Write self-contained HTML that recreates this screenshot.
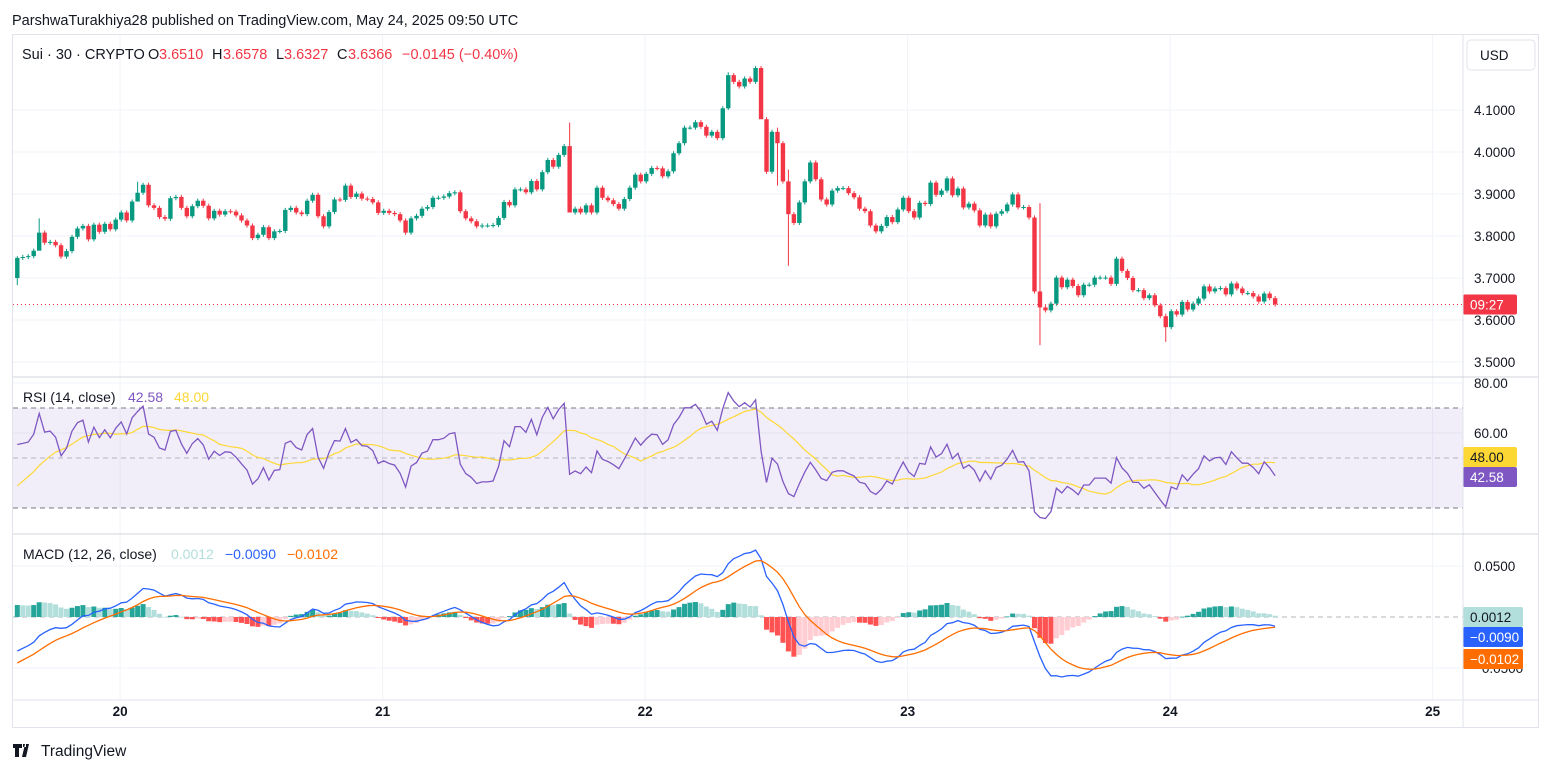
<!DOCTYPE html>
<html><head><meta charset="utf-8"><style>
html,body{margin:0;padding:0;background:#fff;}
body{width:1553px;height:772px;overflow:hidden;font-family:"Liberation Sans",sans-serif;}
svg text{font-family:"Liberation Sans",sans-serif;}
</style></head><body>
<svg id="chart" width="1553" height="772" viewBox="0 0 1553 772" xmlns="http://www.w3.org/2000/svg">
<rect x="0" y="0" width="1553" height="772" fill="#fff"/>
<text x="12" y="25" font-size="14.5" fill="#131722">ParshwaTurakhiya28 published on TradingView.com, May 24, 2025 09:50 UTC</text>
<rect x="12.5" y="34.5" width="1526" height="693" fill="none" stroke="#e0e3eb"/>
<g id="grid"></g>
<g id="rsiBand"></g>
<g id="candles"></g>
<g id="rsiLines"></g>
<g id="macdG"></g>
<g id="axes"></g>
<line x1="1463" y1="35" x2="1463" y2="727" stroke="#e0e3eb"/>
<line x1="13" y1="377" x2="1538" y2="377" stroke="#d1d4dc"/>
<line x1="13" y1="534" x2="1538" y2="534" stroke="#d1d4dc"/>
<line x1="13" y1="700" x2="1538" y2="700" stroke="#e0e3eb"/>
<g><rect x="1467" y="40" width="68" height="30" rx="4" fill="#fff" stroke="#e0e3eb"/><text x="1480" y="60" font-size="13.5" fill="#131722">USD</text></g>
<g font-size="14.5">
<text x="22" y="59" fill="#131722">Sui · 30 · CRYPTO</text>
<text x="148" y="59" fill="#131722">O</text><text x="159" y="59" fill="#f23645">3.6510</text>
<text x="212" y="59" fill="#131722">H</text><text x="223" y="59" fill="#f23645">3.6578</text>
<text x="276" y="59" fill="#131722">L</text><text x="284" y="59" fill="#f23645">3.6327</text>
<text x="337" y="59" fill="#131722">C</text><text x="348" y="59" fill="#f23645">3.6366</text>
<text x="402" y="59" fill="#f23645">−0.0145 (−0.40%)</text>
</g>
<g font-size="14">
<text x="23" y="402" fill="#131722">RSI (14, close)</text>
<text x="128" y="402" fill="#7e57c2">42.58</text>
<text x="174" y="402" fill="#fdd835">48.00</text>
</g>
<g font-size="14">
<text x="23" y="559" fill="#131722">MACD (12, 26, close)</text>
<text x="171" y="559" fill="#b2dfdb">0.0012</text>
<text x="225" y="559" fill="#2962ff">−0.0090</text>
<text x="287" y="559" fill="#ff6d00">−0.0102</text>
</g>
<g>
<path d="M13 744h9v4h-3v9h-4v-9h-2z M25 744l-3 13h4l3-13z M23 744h3v3h-3z" fill="#131722"/>
<text x="41" y="756" font-size="15.5" fill="#131722">TradingView</text>
</g>
</svg>
<script>
// ---- data (30m candles, SUI/USD) ----
const closes = [3.748,3.750,3.752,3.765,3.808,3.784,3.786,3.778,3.751,3.764,3.798,3.818,3.824,3.792,3.827,3.810,3.829,3.816,3.839,3.856,3.837,3.882,3.903,3.922,3.873,3.867,3.845,3.841,3.890,3.893,3.867,3.847,3.871,3.884,3.872,3.842,3.860,3.851,3.859,3.858,3.849,3.837,3.825,3.795,3.803,3.821,3.795,3.811,3.812,3.862,3.867,3.856,3.852,3.884,3.898,3.847,3.823,3.857,3.887,3.886,3.920,3.893,3.901,3.889,3.888,3.880,3.855,3.860,3.855,3.852,3.837,3.808,3.842,3.848,3.865,3.869,3.891,3.891,3.894,3.902,3.904,3.859,3.842,3.835,3.823,3.825,3.825,3.826,3.843,3.881,3.873,3.911,3.911,3.904,3.931,3.911,3.952,3.981,3.965,3.993,4.014,3.856,3.865,3.856,3.873,3.856,3.915,3.891,3.885,3.876,3.865,3.888,3.915,3.946,3.930,3.948,3.962,3.961,3.942,3.954,3.997,4.021,4.058,4.058,4.071,4.060,4.039,4.048,4.033,4.104,4.183,4.167,4.156,4.175,4.167,4.200,4.078,3.953,4.048,4.021,3.930,3.852,3.831,3.880,3.930,3.975,3.935,3.887,3.875,3.908,3.914,3.914,3.902,3.892,3.865,3.859,3.825,3.811,3.824,3.845,3.833,3.863,3.891,3.859,3.844,3.879,3.876,3.927,3.898,3.908,3.937,3.897,3.913,3.868,3.877,3.861,3.825,3.851,3.823,3.853,3.859,3.875,3.899,3.868,3.869,3.844,3.668,3.630,3.623,3.639,3.701,3.678,3.696,3.681,3.659,3.684,3.684,3.701,3.701,3.701,3.686,3.746,3.717,3.700,3.671,3.671,3.652,3.659,3.635,3.609,3.583,3.621,3.613,3.643,3.625,3.639,3.651,3.680,3.668,3.675,3.676,3.661,3.687,3.675,3.664,3.664,3.656,3.644,3.663,3.652,3.637];
const firstOpen = 3.700;
const longWicks = {0:[3.752,3.683],4:[3.842,3.790],22:[3.929,3.890],101:[4.070,4.010],136:[4.205,4.195],141:[3.958,3.729],187:[3.878,3.540],210:[3.615,3.548],130:[4.190,4.100],139:[4.058,3.92]};
const priceTicks = ["4.1000","4.0000","3.9000","3.8000","3.7000","3.6000","3.5000"];
const priceTickVals = [4.1,4.0,3.9,3.8,3.7,3.6,3.5];
const rsiTicks = ["80.00","60.00"];
const rsiTickVals = [80,60];
const macdTicks = ["0.0500","−0.0500"];
const macdTickVals = [0.05,-0.05];
const dayLabels = ["20","21","22","23","24","25"];
const dayIndex = [18.8,66.8,114.8,162.8,210.8,258.8];

// ---- scales ----
const NS="http://www.w3.org/2000/svg";
const xS = i => 17.3 + i*5.4688;
const pY = v => 110 + (4.1 - v)*420;
const rY = v => 458 - (v-50)*2.5;
const mY = v => 617 - v*1020;
function mk(tag, attrs, parent){const e=document.createElementNS(NS,tag);for(const k in attrs)e.setAttribute(k,attrs[k]);parent.appendChild(e);return e;}
const grid=document.getElementById('grid'), axes=document.getElementById('axes');

dayIndex.forEach((d,k)=>{
  const x=xS(d);
  const g=mk('line',{x1:x,y1:35,x2:x,y2:700,stroke:'#f0f3fa'},grid);
  
  
  const t=mk('text',{x:x,y:716,'font-size':13.5,'font-weight':'bold','text-anchor':'middle',fill:'#131722'},axes);
  t.textContent=dayLabels[k];
  
  
});
priceTickVals.forEach((v,k)=>{
  const y=pY(v);
  const g=mk('line',{x1:13,y1:y,x2:1463,y2:y,stroke:'#f0f3fa'},grid);
  
  
  const t=mk('text',{x:1474,y:y+5,'font-size':13.5,fill:'#131722'},axes);
  t.textContent=priceTicks[k];
  
  
});
rsiTickVals.forEach((v,k)=>{
  const y=rY(v);
  const g=mk('line',{x1:13,y1:y,x2:1463,y2:y,stroke:'#f0f3fa'},grid);
  
  
  const t=mk('text',{x:1474,y:y+5,'font-size':13.5,fill:'#131722'},axes);
  t.textContent=rsiTicks[k];
  
  
});
macdTickVals.forEach((v,k)=>{
  const y=mY(v);
  const g=mk('line',{x1:13,y1:y,x2:1463,y2:y,stroke:'#f0f3fa'},grid);
  
  
  const t=mk('text',{x:1474,y:y+5,'font-size':13.5,fill:'#131722'},axes);
  t.textContent=macdTicks[k];
  
  
});

const band=document.getElementById('rsiBand');
const br=mk('rect',{x:13,y:rY(70),width:1450,height:rY(30)-rY(70),fill:'rgba(126,87,194,0.1)'},band);


[70,50,30].forEach(v=>{
  const l=mk('line',{x1:13,y1:rY(v),x2:1463,y2:rY(v),stroke:v==50?'#b2b5be':'#787b86','stroke-dasharray':'5,4'},band);
  
  
});
const zl=mk('line',{x1:13,y1:mY(0),x2:1463,y2:mY(0),stroke:'#b2b5be','stroke-dasharray':'5,4'},band);



const cg=document.getElementById('candles');
closes.forEach((c,i)=>{
  const o = i===0?firstOpen:closes[i-1];
  const up = c>=o;
  const col = up?'#089981':'#f23645';
  const x = xS(i);
  let hi = Math.max(o,c)+0.005, lo = Math.min(o,c)-0.005;
  if(longWicks[i]){hi=longWicks[i][0];lo=longWicks[i][1];}
  const w=mk('line',{x1:x,y1:pY(hi),x2:x,y2:pY(lo),stroke:col,'stroke-width':1},cg);
  
  
  const top=pY(Math.max(o,c)), h=Math.max(1,pY(Math.min(o,c))-top);
  const b=mk('rect',{x:x-2.2,y:top,width:4.4,height:h,fill:col},cg);
  
  
});
const last=closes[closes.length-1];
const pl=mk('line',{x1:13,y1:pY(last),x2:1463,y2:pY(last),stroke:'#f23645','stroke-dasharray':'1,3'},cg);



const rsi=[]; let ag=0.005, al=0.007;
closes.forEach((c,i)=>{
  const prev=i===0?firstOpen:closes[i-1]; const d=c-prev;
  ag=(ag*13+Math.max(d,0))/14; al=(al*13+Math.max(-d,0))/14;
  rsi.push(al===0?100:100-100/(1+ag/al));
});
const rsiSeed=[30,31,32,33,34,35,36,38,40,42,44,46,48];
const rsiMA=rsi.map((v,i)=>{const arr=rsiSeed.concat(rsi.slice(0,i+1)).slice(-14);return arr.reduce((a,b)=>a+b,0)/arr.length;});
const rg=document.getElementById('rsiLines');
const pts=a=>a.map((v,i)=>xS(i).toFixed(1)+','+v.toFixed(1)).join(' ');
const rm=mk('polyline',{points:pts(rsiMA.map(rY)),fill:'none',stroke:'#fdd835','stroke-width':1.2},rg);


const rl=mk('polyline',{points:pts(rsi.map(rY)),fill:'none',stroke:'#7e57c2','stroke-width':1.3},rg);



let e12=closes[0], e26=closes[0]+0.036, sig=-0.048;
const macd=[], signal=[], hist=[];
closes.forEach(c=>{
  e12+= (c-e12)*2/13; e26+=(c-e26)*2/27;
  const m=e12-e26; sig+=(m-sig)*2/10;
  macd.push(m); signal.push(sig); hist.push(m-sig);
});
const mg=document.getElementById('macdG');
hist.forEach((h,i)=>{
  const prev=i===0?h:hist[i-1];
  const col = h>=0?(h>=prev?'#26a69a':'#b2dfdb'):(h<prev?'#ff5252':'#ffcdd2');
  const y0=mY(0), y1=mY(h);
  const r=mk('rect',{x:xS(i)-2.5,y:Math.min(y0,y1),width:5,height:Math.max(0.8,Math.abs(y1-y0)),fill:col},mg);
  
  
});
const ml=mk('polyline',{points:pts(macd.map(mY)),fill:'none',stroke:'#2962ff','stroke-width':1.3},mg);


const sl=mk('polyline',{points:pts(signal.map(mY)),fill:'none',stroke:'#ff6d00','stroke-width':1.3},mg);



function badge(y,txt,bg,fg,name){
  const g=mk('g',{},axes);
  
  
  mk('rect',{x:1463,y:y-10,width:txt.length>5?60:54,height:20,fill:bg,rx:2},g);
  const t=mk('text',{x:1470,y:y+5,'font-size':13.5,fill:fg},g);t.textContent=txt;
}
badge(pY(last),'09:27','#f23645','#fff','price-badge');
badge(457,'48.00','#fdd835','#131722','rsi-ma-badge');
badge(477,'42.58','#7e57c2','#fff','rsi-badge');
badge(617,'0.0012','#b2dfdb','#131722','histogram-badge');
badge(637,'−0.0090','#2962ff','#fff','macd-badge');
badge(659,'−0.0102','#ff6d00','#fff','signal-badge');
</script>
</body></html>
